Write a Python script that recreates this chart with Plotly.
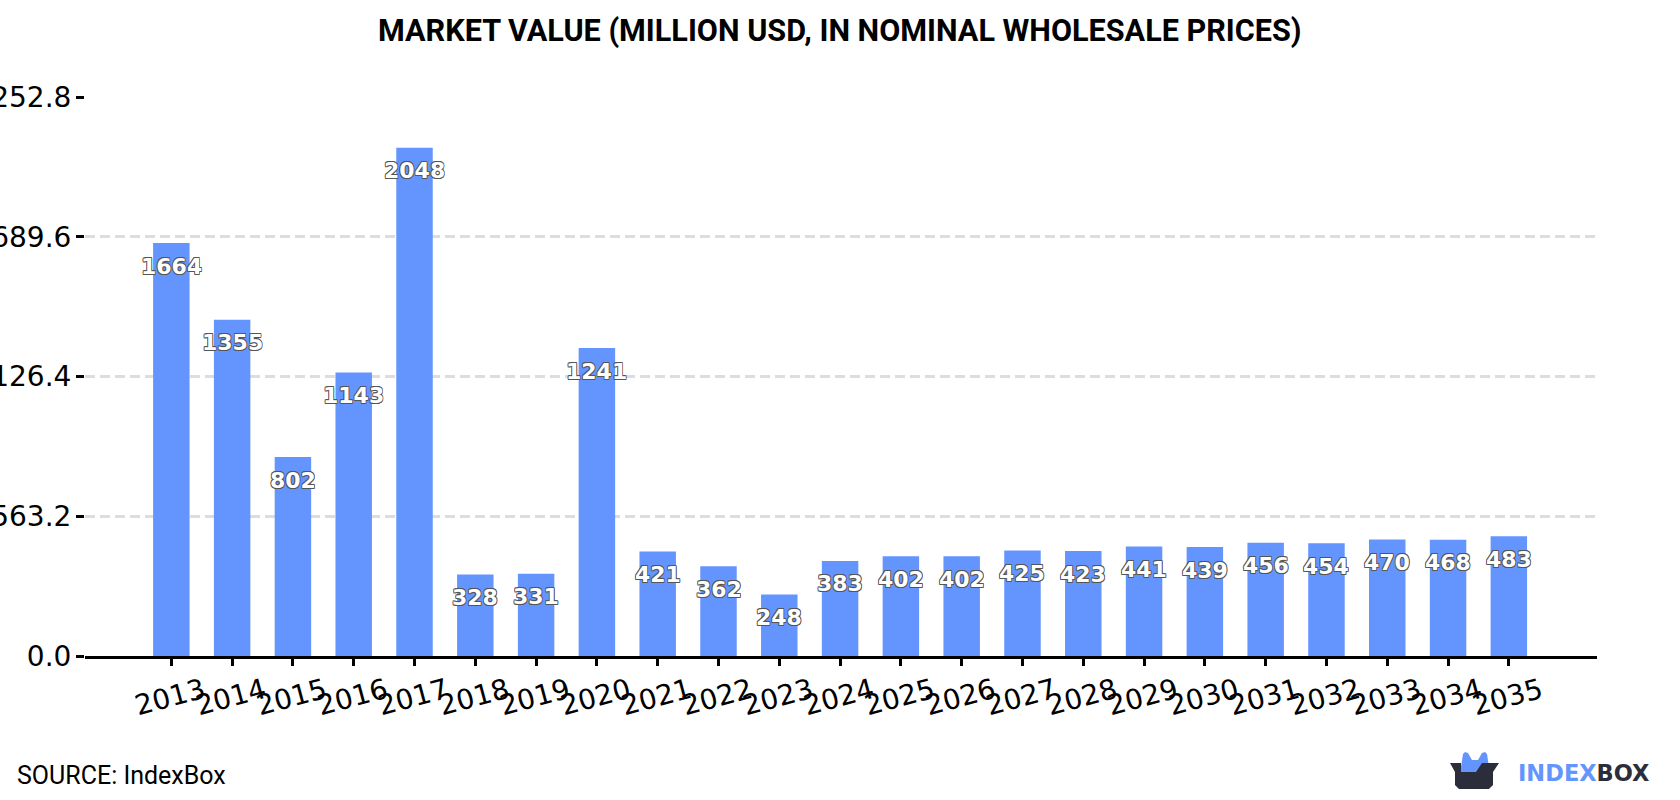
import plotly.graph_objects as go

# Market value by year, million USD
years = list(range(2013, 2036))
values = [1664, 1355, 802, 1143, 2048, 328, 331, 1241, 421, 362, 248, 383,
          402, 402, 425, 423, 441, 439, 456, 454, 470, 468, 483]
y_ticks = [0.0, 563.2, 1126.4, 1689.6, 2252.8]

title_text = "MARKET VALUE (MILLION USD, IN NOMINAL WHOLESALE PRICES)"
source_text = "SOURCE: IndexBox"

BLUE = "#6495ff"
DARK = "#2b2d3a"
WIDTH, HEIGHT = 1680, 800
M_L, M_R, M_T, M_B = 85, 83, 97, 144
OUTLINE = ("-0.7px 0 0 #555, 0.7px 0 0 #555, 0 -0.7px 0 #555, 0 0.7px 0 #555, "
           "-0.7px -0.7px 0 #555, 0.7px 0.7px 0 #555, -0.7px 0.7px 0 #555, 0.7px -0.7px 0 #555")


def px(x):
    return (x - M_L) / (WIDTH - M_L - M_R)


def py(y):
    return (HEIGHT - M_B - y) / (HEIGHT - M_T - M_B)


def path(points):
    return "M " + " L ".join(f"{px(x):.5f},{py(y):.5f}" for x, y in points) + " Z"


fig = go.Figure(go.Bar(x=years, y=values, width=0.6, marker_color=BLUE, marker_line_width=0))

# Value labels sit a fixed distance under each bar top
annotations = [
    dict(x=yr, y=v, xref="x", yref="y", text=str(v), showarrow=False, yshift=-23,
         font=dict(family="DejaVu Sans", size=22, color="white", weight="bold", shadow=OUTLINE))
    for yr, v in zip(years, values)
]

annotations += [
    dict(x=840, y=31, text=f"<b>{title_text}</b>", font=dict(family="Roboto", size=30.6, color="#000")),
    dict(x=15, y=775, text=source_text, xanchor="left", font=dict(family="Roboto", size=25, color="#000")),
    dict(x=1516, y=773, xanchor="left",
         text=f'<b><span style="color:{BLUE}">INDEX</span><span style="color:{DARK}">BOX</span></b>',
         font=dict(family="DejaVu Sans", size=22.5)),
]
for a in annotations[-3:]:
    a.update(xref="paper", yref="paper", yanchor="middle", showarrow=False, x=px(a["x"]), y=py(a["y"]))

# Logo: open box with a blue crown
shapes = [
    dict(type="path", xref="paper", yref="paper", line_width=0, fillcolor=BLUE, layer="above",
         path=path([(1461, 767), (1463, 754), (1465, 752), (1468, 753), (1472, 760), (1478, 760),
                    (1482, 753), (1485, 752), (1487, 754), (1489, 767), (1480, 772), (1461, 772)])),
    dict(type="path", xref="paper", yref="paper", line_width=0, fillcolor=DARK, layer="above",
         path=path([(1450, 763), (1461, 763), (1461, 772), (1476, 772), (1482, 763), (1499, 763),
                    (1493, 772), (1493, 785), (1489, 789), (1459, 789), (1455, 785), (1455, 772)])),
]

fig.update_layout(
    autosize=True,
    margin=dict(l=M_L, r=M_R, t=M_T, b=M_B, pad=0),
    paper_bgcolor="white", plot_bgcolor="white",
    showlegend=False, annotations=annotations, shapes=shapes,
    font=dict(family="DejaVu Sans", color="#000"),
)
fig.update_xaxes(
    automargin=False, range=[2013 - 1.42, 2035 + 1.45], tickmode="array", tickvals=years,
    tickformat="d", tickangle=-15, ticklabelshift=32, ticklabelstandoff=-2,
    tickfont=dict(size=28, family="DejaVu Sans"),
    ticks="outside", ticklen=7, tickwidth=3, tickcolor="#000",
    showline=True, linecolor="#000", linewidth=3, showgrid=False, zeroline=False,
)
fig.update_yaxes(
    automargin=False, range=[0, 2252.8], tickmode="array", tickvals=y_ticks, tickformat=".1f",
    tickfont=dict(size=28, family="DejaVu Sans"), ticklabelstandoff=-1,
    ticks="outside", ticklen=8, tickwidth=3, tickcolor="#000",
    showline=False, zeroline=False, showgrid=True,
    gridcolor="#dddddd", gridwidth=3, griddash="10px,5px",
)

fig.write_html("out.html", config=dict(displayModeBar=False),
               default_width="1680px", default_height="800px")
